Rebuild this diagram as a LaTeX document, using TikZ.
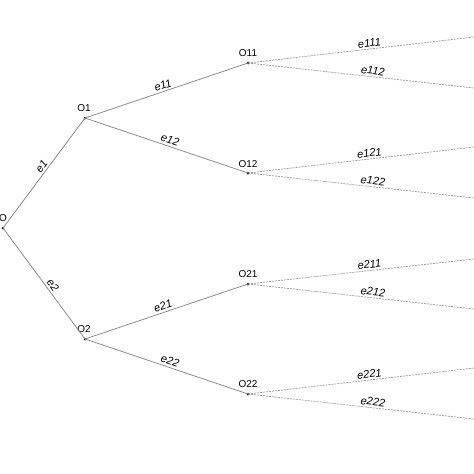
\documentclass[tikz,border=0pt]{standalone}
\usepackage{fontspec}
\setmainfont{Liberation Sans}
\begin{document}
\begin{tikzpicture}[x=1pt,y=-1pt,
  dot/.style={circle,fill=black,inner sep=0pt,minimum size=3pt},
  nlbl/.style={font=\fontsize{10}{11}\selectfont,inner sep=0pt},
  elbl/.style={font=\fontsize{11}{12}\selectfont\itshape,inner sep=1.8pt,sloped,above},
  mainedge/.style={draw=black!45,line width=0.8pt},
  leafedge/.style={draw=black!40,line width=0.7pt,dash pattern=on 2pt off 1pt}]
\useasboundingbox (0,0) rectangle (474,474);
% nodes
\node[dot] (O) at (3,228) {};
\node[dot] (O1) at (85,118) {};
\node[dot] (O2) at (85,339) {};
\node[dot] (O11) at (248,63) {};
\node[dot] (O12) at (248,173) {};
\node[dot] (O21) at (248,284) {};
\node[dot] (O22) at (248,394) {};
% node labels
\node[nlbl] (lO) at (3,218) {O};
\node[nlbl] (lO1) at (84,108) {O1};
\node[nlbl] (lO2) at (84,329) {O2};
\node[nlbl] (lO11) at (248,53) {O11};
\node[nlbl] (lO12) at (248,164) {O12};
\node[nlbl] (lO21) at (248,274) {O21};
\node[nlbl] (lO22) at (248,384) {O22};
% leaf ends
\coordinate (L111) at (474,37);
\coordinate (L112) at (474,88);
\coordinate (L121) at (474,147);
\coordinate (L122) at (474,198);
\coordinate (L211) at (474,259);
\coordinate (L212) at (474,309);
\coordinate (L221) at (474,368);
\coordinate (L222) at (474,419);
% main edges
\draw[mainedge] (O.center) -- node[elbl,pos=0.53] {e1} (O1.center);
\draw[mainedge] (O.center) -- node[elbl,pos=0.55] {e2} (O2.center);
\draw[mainedge] (O1.center) -- node[elbl,pos=0.49] {e11} (O11.center);
\draw[mainedge] (O1.center) -- node[elbl,pos=0.51] {e12} (O12.center);
\draw[mainedge] (O2.center) -- node[elbl,pos=0.49] {e21} (O21.center);
\draw[mainedge] (O2.center) -- node[elbl,pos=0.51] {e22} (O22.center);
% leaf edges
\draw[leafedge] (O11.center) -- node[elbl,pos=0.54] {e111} (L111);
\draw[leafedge] (O11.center) -- node[elbl,pos=0.55] {e112} (L112);
\draw[leafedge] (O12.center) -- node[elbl,pos=0.54] {e121} (L121);
\draw[leafedge] (O12.center) -- node[elbl,pos=0.55] {e122} (L122);
\draw[leafedge] (O21.center) -- node[elbl,pos=0.54] {e211} (L211);
\draw[leafedge] (O21.center) -- node[elbl,pos=0.55] {e212} (L212);
\draw[leafedge] (O22.center) -- node[elbl,pos=0.54] {e221} (L221);
\draw[leafedge] (O22.center) -- node[elbl,pos=0.55] {e222} (L222);
\end{tikzpicture}
\end{document}
